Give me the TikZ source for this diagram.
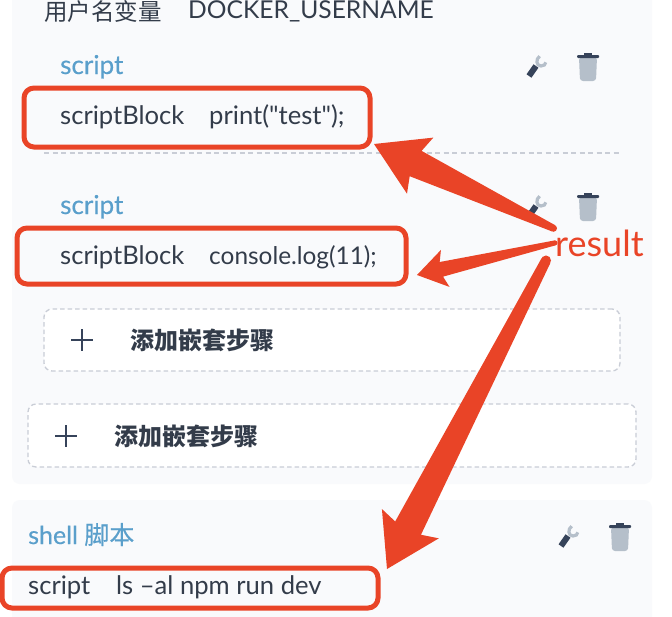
\documentclass[tikz,border=0pt]{standalone}
\usepackage{fontspec}
\setmainfont{Lato}
\newfontfamily\plainf{Lato}
\newfontfamily\medf[FakeBold=0.4]{Lato}
\newfontfamily\cjk{Noto Sans CJK SC}
\newfontfamily\cjkm[FakeBold=0.4]{Noto Sans CJK SC}
\usetikzlibrary{calc}
\definecolor{redmark}{HTML}{E94427}
\definecolor{panelbg}{HTML}{F9FAFC}
\definecolor{inktext}{HTML}{333C4A}
\definecolor{bluetext}{HTML}{5A9FCB}
\definecolor{dashgrey}{HTML}{C9CDD6}
\definecolor{iconbody}{HTML}{B5BFCA}
\definecolor{icondark}{HTML}{36435A}
\newcommand{\fsz}[1]{\fontsize{#1}{#1}\selectfont}
% tail, tip, head length, barb half width, neck distance, neck half width, tail half width
\newcommand{\redarrow}[7]{%
  \fill[redmark] (#1) circle (#7pt);
  \fill[redmark] (#2)
    -- ($(#2)!#3pt!(#1)!#4pt!90:(#1)$)
    -- ($(#2)!#5pt!(#1)!#6pt!90:(#1)$)
    -- ($(#1)!#7pt!-90:(#2)$)
    -- ($(#1)!#7pt!90:(#2)$)
    -- ($(#2)!#5pt!(#1)!#6pt!-90:(#1)$)
    -- ($(#2)!#3pt!(#1)!#4pt!-90:(#1)$)
    -- cycle;}
\tikzset{
  x=1pt,y=-1pt,
  panel/.style={fill=panelbg,rounded corners=8pt},
  redbox/.style={draw=redmark,line width=5pt,rounded corners=10pt,anchor=north west,inner sep=0pt,outer sep=0pt},
  addbox/.style={draw=dashgrey,fill=white,line width=1.3pt,dash pattern=on 4.5pt off 3pt,rounded corners=8pt,anchor=north west,inner sep=0pt,outer sep=0pt},
  body/.style={font=\plainf\fsz{25.6},text=inktext,anchor=base west,inner sep=0pt},
  head/.style={font=\medf\fsz{26},text=bluetext,anchor=base west,inner sep=0pt},
  addlabel/.style={font=\cjk\bfseries\fsz{24},text=inktext,anchor=west,inner sep=0pt},
  plusmark/.style={draw=icondark,line width=2.2pt},
  wrench/.pic={
    \draw[icondark,line width=6pt] (-8,9) -- (-1,-1);
    \draw[iconbody,line width=3.2pt] (2.7,-10.8) .. controls (-1.5,-8) and (-1,-1) .. (4,-1) .. controls (7,-1) and (8.5,-2.5) .. (8.8,-4.7);
  },
  trash/.pic={
    \fill[iconbody,rounded corners=3pt] (-9,-10) -- (9,-10) -- (8,14) -- (-8,14) -- cycle;
    \fill[icondark,rounded corners=1pt] (-11,-12) rectangle (11,-9);
    \fill[icondark] (-4,-14) rectangle (4,-11);
  }
}
\begin{document}
\begin{tikzpicture}
\useasboundingbox (0,0) rectangle (672,616);
\fill[white] (0,0) rectangle (672,616);
\fill[panel] (12,-20) rectangle (652,484);
\fill[panel] (12,500) rectangle (652,640);
\node[body,font=\cjk\fsz{23.5}] (uservar) at (44,20) {用户名变量};
\node[body,font=\plainf\fsz{24.6}] (dockervar) at (188,18.5) {DOCKER\_USERNAME};
\node[head] (s1) at (60,74) {script};
\node[body] (k1) at (60,124) {scriptBlock};
\node[body] (v1) at (209,124) {print("test");};
\draw[dashgrey,line width=1.3pt,dash pattern=on 5pt off 3.5pt] (44,153) -- (620,153);
\node[head] (s2) at (60,214) {script};
\node[body] (k2) at (60,264) {scriptBlock};
\node[body,font=\plainf\fsz{24.4}] (v2) at (209,264) {console.log(11);};
\node[addbox,minimum width=576pt,minimum height=62pt] (add1) at (44,309) {};
\draw[plusmark] (71,340) -- (93,340) (82,329) -- (82,351);
\node[addlabel] (add1t) at (130,340) {添加嵌套步骤};
\node[addbox,minimum width=608pt,minimum height=63pt] (add2) at (28,404) {};
\draw[plusmark] (55,436) -- (77,436) (66,425) -- (66,447);
\node[addlabel] (add2t) at (114,436) {添加嵌套步骤};
\node[head,font=\medf\fsz{25}] (shellname) at (28,544) {shell \cjkm 脚本};
\node[body] (k3) at (28,594) {script};
\node[body] (v3) at (116,594) {ls –al npm run dev};
\pic at (537,67) {wrench};
\pic at (588,67) {trash};
\pic at (537,207) {wrench};
\pic at (588,207) {trash};
\pic at (569,537) {wrench};
\pic at (620,537) {trash};
\node[redbox,minimum width=346pt,minimum height=59pt] (box1) at (24,88) {};
\node[redbox,minimum width=389pt,minimum height=56pt] (box2) at (17,228) {};
\node[redbox,minimum width=376pt,minimum height=40pt] (box3) at (2,568) {};
\node[font=\fsz{36},text=redmark,anchor=base west,inner sep=0pt] (result) at (555,256) {result};
\coordinate (r1) at ($(result.north west)+(-1.5,-1)$);
\coordinate (r2) at (result.west);
\coordinate (r3) at ($(result.south west)+(-9,4)$);
\coordinate (t1) at ($(box1.south east)+(4,-3)$);
\coordinate (t2) at ($(box2.east)+(11,19)$);
\coordinate (t3) at ($(box3.north east)+(9,1)$);
\redarrow{r1}{t1}{51}{31}{46}{14}{3.5}
\redarrow{r2}{t2}{29}{19}{25}{7.5}{2.5}
\redarrow{r3}{t3}{51}{32}{46}{14.5}{5}
\end{tikzpicture}
\end{document}
